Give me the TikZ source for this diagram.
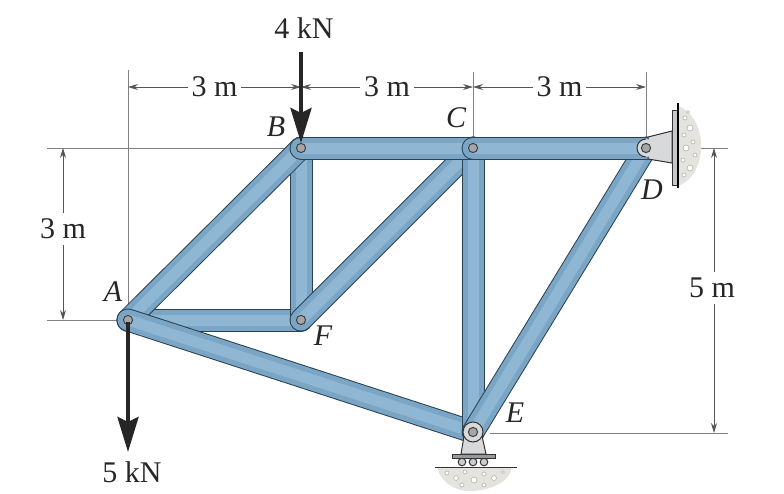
\documentclass[tikz,border=0pt]{standalone}
\usepackage{fontspec}
\setmainfont{Liberation Serif}
\usetikzlibrary{arrows.meta}
\definecolor{barblue}{HTML}{7AA5C5}
\definecolor{barlight}{HTML}{8FB6D2}
\definecolor{barline}{HTML}{2B4252}
\definecolor{dimgray}{HTML}{555555}
\definecolor{plategray}{HTML}{D8D9DA}
\definecolor{rockgray}{HTML}{E4E3DD}
\tikzset{
  dimline/.style={draw=dimgray,line width=0.8pt,{Stealth[length=10pt,width=6pt]}-{Stealth[length=10pt,width=6pt]}},
  extline/.style={draw=dimgray!75,line width=0.8pt},
  force/.style={draw=black!85,line width=4pt,-{Stealth[length=35pt,width=21pt,inset=5pt]}},
  lbl/.style={font=\fontsize{30}{32}\selectfont,text=black!85,inner sep=1pt},
  plab/.style={font=\fontsize{30}{32}\selectfont\itshape,text=black!85,inner sep=0pt},
  pin/.style={draw=black!75,line width=1pt,fill=black!35},
  metal/.style={draw=black!80,line width=1pt,fill=plategray}
}
\begin{document}
\begin{tikzpicture}[x=1pt,y=-1pt]
\useasboundingbox (0,0) rectangle (784,493);
% joints
\coordinate (A) at (128,320);
\coordinate (B) at (301,148);
\coordinate (C) at (473,148);
\coordinate (D) at (646,148);
\coordinate (E) at (473,432);
\coordinate (F) at (301,320);
% dimension ends
\coordinate (T0) at (128,87);
\coordinate (T1) at (301,87);
\coordinate (T2) at (473,87);
\coordinate (T3) at (646,87);
\coordinate (L0) at (63,148);
\coordinate (L1) at (63,320);
\coordinate (R0) at (714,148);
\coordinate (R1) at (714,433);
% extension lines
\draw[extline] (128,70) -- (A);
\draw[extline] (473,72) -- (C);
\draw[extline] (646,72) -- (D);
\draw[extline] (47,148) -- (B);
\draw[extline] (47,320) -- (A);
\draw[extline] (D) -- (728,148);
\draw[extline] (E) ++(17,1) -- (728,433);
% dimensions
\draw[dimline] (T0) -- node[lbl,fill=white,inner xsep=4pt] (d1) {3 m} (T1);
\draw[dimline] (T1) -- node[lbl,fill=white,inner xsep=4pt] (d2) {3 m} (T2);
\draw[dimline] (T2) -- node[lbl,fill=white,inner xsep=4pt] (d3) {3 m} (T3);
\draw[dimline] (L0) -- node[lbl,fill=white,inner ysep=6pt,pos=.47] (d4) {3 m} (L1);
\draw[dimline] (R0) -- node[lbl,fill=white,inner ysep=6pt,pos=.49,xshift=-2pt] (d5) {5 m} (R1);
% wall at D
\fill[rockgray] (678,106) .. controls (694,112) and (702,130) .. (701,150) .. controls (700,168) and (690,182) .. (678,186) -- cycle;
\foreach \x/\y/\r in {685/118/2,690/128/3,684/135/2,693/142/2,686/148/3,695/155/2,683/160/2,690/168/3,684/175/2,688/112/1.5}
  \draw[black!30,fill=white,line width=0.6pt] (\x,\y) circle (\r);
\draw[metal,fill=black!22] (672,110) rectangle (678,185);
\draw[black,line width=1.2pt] (678,103) -- (678,188);
% ground at E
\fill[rockgray] (437,467) -- (512,467) .. controls (510,482) and (490,491) .. (470,491) .. controls (452,491) and (440,480) .. (437,467) -- cycle;
\foreach \x/\y/\r in {447/473/2,456/478/2.5,465/472/2,474/480/3,484/474/2,494/478/2.5,503/472/1.5,462/485/2,484/485/2}
  \draw[black!30,fill=white,line width=0.6pt] (\x,\y) circle (\r);
\draw[black!80,line width=1pt] (435,467) -- (517,467);
\foreach \x in {462,473,484}
  \draw[black!80,fill=black!20,line width=1pt] (\x,462) circle (3.8);
\draw[metal,fill=black!40] (452,454) rectangle (495,458);
% bars, back to front
\foreach \p/\q in {A/F,B/F,A/B,A/E,F/C,C/E,D/E,B/C,C/D}{
  \draw[barline,line width=23pt,line cap=round] (\p) -- (\q);
  \draw[barblue,line width=21pt,line cap=round] (\p) -- (\q);
  \draw[barlight,line width=11pt,line cap=round,shift={(0.6,-1.2)}] (\p) -- (\q);
}
% brackets over the bar ends
\draw[metal] (464,436) -- (461,454) -- (486,454) -- (482,436) -- cycle;
\draw[metal] (E) circle (10);
\draw[metal] (648,137) -- (672,131) -- (672,163) -- (648,159) -- cycle;
\fill[plategray] (D) circle (9);
\draw[black!80,line width=1pt] (D) ++(-90:9) arc (-90:-270:9);
% pins
\foreach \j in {A,B,C,D,E,F}
  \draw[pin] (\j) circle (4.6);
% loads
\coordinate (P0) at (301,52);
\coordinate (P1) at (301,143);
\coordinate (Q0) at (128,322);
\coordinate (Q1) at (128,452);
\draw[force] (P0) -- (P1);
\draw[force] (Q0) -- (Q1);
\node[lbl] (p4) at (304,28) {4 kN};
\node[lbl] (p5) at (132,472) {5 kN};
% joint letters
\node[plab] (lA) at (113,292) {A};
\node[plab] (lB) at (276,127) {B};
\node[plab] (lC) at (456,118) {C};
\node[plab] (lD) at (652,190) {D};
\node[plab] (lE) at (515,413) {E};
\node[plab] (lF) at (323,336) {F};
\end{tikzpicture}
\end{document}
